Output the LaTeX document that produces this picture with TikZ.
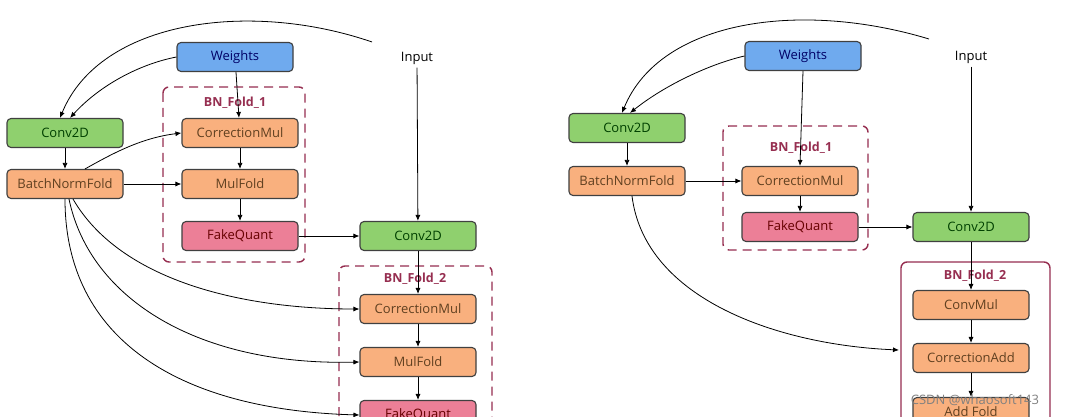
\documentclass[tikz,border=0pt]{standalone}
\usepackage{fontspec}
\setmainfont{Open Sans}
\usetikzlibrary{arrows.meta}
\definecolor{wb}{HTML}{6FAAEE}
\definecolor{gr}{HTML}{8FD06E}
\definecolor{orr}{HTML}{F9B07E}
\definecolor{pk}{HTML}{EC7F97}
\definecolor{fr}{HTML}{962E50}
\tikzset{
 x=1pt,y=-1pt,
 blk/.style={draw=black!75,line width=1.1pt,rounded corners=4pt,minimum width=116pt,minimum height=29pt,inner sep=0pt,font=\fontsize{13}{15}\selectfont},
 wts/.style={blk,fill=wb,text=blue!40!black},
 cnv/.style={blk,fill=gr,text=green!25!black},
 orn/.style={blk,fill=orr,text=brown!50!black},
 fq/.style={blk,fill=pk,text=red!40!black},
 fold/.style={draw=fr,line width=1.4pt,rounded corners=6pt},
 flab/.style={text=fr,font=\bfseries\fontsize{12.5}{14}\selectfont},
 ar/.style={-{Latex[length=6pt,width=5pt]},line width=0.8pt},
}
\begin{document}
\begin{tikzpicture}
\useasboundingbox[fill=white] (0,0) rectangle (1069,417);
\begin{scope}
\clip (0,0) rectangle (1069,417);
% ---------- left
\draw[fold,dash pattern=on 9pt off 6pt] (163,87) rectangle (305,262);
\draw[fold,dash pattern=on 9pt off 6pt] (339,266) rectangle (492,440);
\node[flab] (l1) at (235,103) {BN\_Fold\_1};
\node[flab] (l2) at (415,279) {BN\_Fold\_2};
\node[wts] (W) at (235,57) {Weights};
\node (I) at (417,58) {\fontsize{13}{15}\selectfont Input};
\node[cnv] (C1) at (65,133) {Conv2D};
\node[orn] (B) at (65,184) {BatchNormFold};
\node[orn] (CM) at (240,133) {CorrectionMul};
\node[orn] (MF) at (240,184) {MulFold};
\node[fq] (FQ) at (240,236) {FakeQuant};
\node[cnv] (C2) at (418,236) {Conv2D};
\node[orn] (CM2) at (418,309) {CorrectionMul};
\node[orn] (MF2) at (418,362) {MulFold};
\node[fq] (FQ2) at (418,415) {FakeQuant};
\coordinate (arcL) at (372,42);
\draw[ar] (arcL) .. controls (250,0) and (100,20) .. ([xshift=-5pt]C1.north);
\draw[ar] (W.west) .. controls (140,64) and (100,85) .. ([xshift=5pt]C1.north);
\draw[ar] (C1) -- (B);
\draw[ar] ([xshift=20pt]B.north) .. controls (110,155) and (140,138) .. (CM.west);
\draw[ar] (B) -- (MF);
\draw[ar] (W) -- (CM);
\draw[ar] (CM) -- (MF);
\draw[ar] (MF) -- (FQ);
\draw[ar] (FQ) -- (C2);
\draw[ar] (I) -- (C2);
\draw[ar] (C2) -- (CM2);
\draw[ar] (CM2) -- (MF2);
\draw[ar] (MF2) -- (FQ2);
\draw[ar] ([xshift=8pt]B.south) .. controls (120,280) and (240,309) .. (CM2.west);
\draw[ar] ([xshift=4pt]B.south) .. controls (90,300) and (200,366) .. (MF2.west);
\draw[ar] (B.south) .. controls (65,340) and (180,410) .. (FQ2.west);
% ---------- right
\draw[fold,dash pattern=on 9pt off 6pt] (723,126) rectangle (868,250);
\draw[fold] (901,262) rectangle (1050,440);
\node[flab] (r1) at (801,148) {BN\_Fold\_1};
\node[flab] (r2) at (975,276) {BN\_Fold\_2};
\node[wts] (RW) at (803,56) {Weights};
\node (RI) at (971,57) {\fontsize{13}{15}\selectfont Input};
\node[cnv] (RC1) at (627,128) {Conv2D};
\node[orn] (RB) at (627,181) {BatchNormFold};
\node[orn] (RCM) at (800,181) {CorrectionMul};
\node[fq] (RFQ) at (800,227) {FakeQuant};
\node[cnv] (RC2) at (971,227) {Conv2D};
\node[orn] (RCV) at (971,305) {ConvMul};
\node[orn] (RCA) at (971,358) {CorrectionAdd};
\node[orn] (RAF) at (971,412) {Add Fold};
\coordinate (arcR) at (929,39);
\coordinate (f2in) at (899,350);
\draw[ar] (arcR) .. controls (800,0) and (660,20) .. ([xshift=-5pt]RC1.north);
\draw[ar] (RW.west) .. controls (710,64) and (665,85) .. ([xshift=3pt]RC1.north);
\draw[ar] (RC1) -- (RB);
\draw[ar] (RB) -- (RCM);
\draw[ar] (RW.south) -- (RCM.north);
\draw[ar] (RCM) -- (RFQ);
\draw[ar] (RFQ) -- (RC2);
\draw[ar] (RI) -- (RC2);
\draw[ar] (RC2) -- (RCV);
\draw[ar] (RCV) -- (RCA);
\draw[ar] (RCA) -- (RAF);
\draw[ar] ([xshift=5pt]RB.south) .. controls (645,300) and (780,345) .. (f2in);
\node[text=gray,font=\fontsize{13}{15}\selectfont] (wm) at (975,400) {CSDN @whaosoft143};
\end{scope}
\end{tikzpicture}
\end{document}
